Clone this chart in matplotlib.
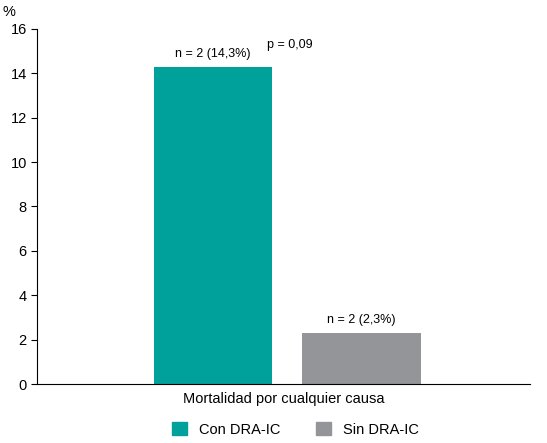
import matplotlib
matplotlib.use("Agg")
import matplotlib.pyplot as plt
from matplotlib.patches import Patch

groups = ["Con DRA-IC", "Sin DRA-IC"]
values = [14.3, 2.3]
labels = ["n = 2 (14,3%)", "n = 2 (2,3%)"]
colors = ["#00a19a", "#939598"]
positions = [0.357, 0.658]

plt.rcParams['font.family'] = ['Liberation Sans', 'DejaVu Sans']
fig = plt.figure(figsize=(5.47, 4.43), dpi=100)
ax = fig.add_axes([0.068, 0.133, 0.901, 0.802])

ax.bar(positions, values, width=0.24, color=colors)
for x, v, t in zip(positions, values, labels):
    ax.text(x, v + 0.3, t, ha="center", va="bottom", fontsize=9)
ax.text(0.467, 15.0, "p = 0,09", ha="left", va="bottom", fontsize=9)

ax.set_xlim(0, 1)
ax.set_ylim(0, 16)
ax.set_yticks(range(0, 17, 2))
ax.set_xticks([])
ax.tick_params(axis="y", labelsize=10.5, length=4)
for s in ["top", "right"]:
    ax.spines[s].set_visible(False)
ax.set_xlabel("Mortalidad por cualquier causa", fontsize=10.5, labelpad=6)
fig.text(0.005, 0.965, "%", fontsize=10.5)

handles = [Patch(color=c, label=g) for c, g in zip(colors, groups)]
fig.legend(handles=handles, loc="lower center", bbox_to_anchor=(0.54, -0.015),
           ncol=2, frameon=False, fontsize=10.5, handlelength=1.0, handleheight=1.0,
           columnspacing=2.5)

fig.savefig("out.png", dpi=100)
